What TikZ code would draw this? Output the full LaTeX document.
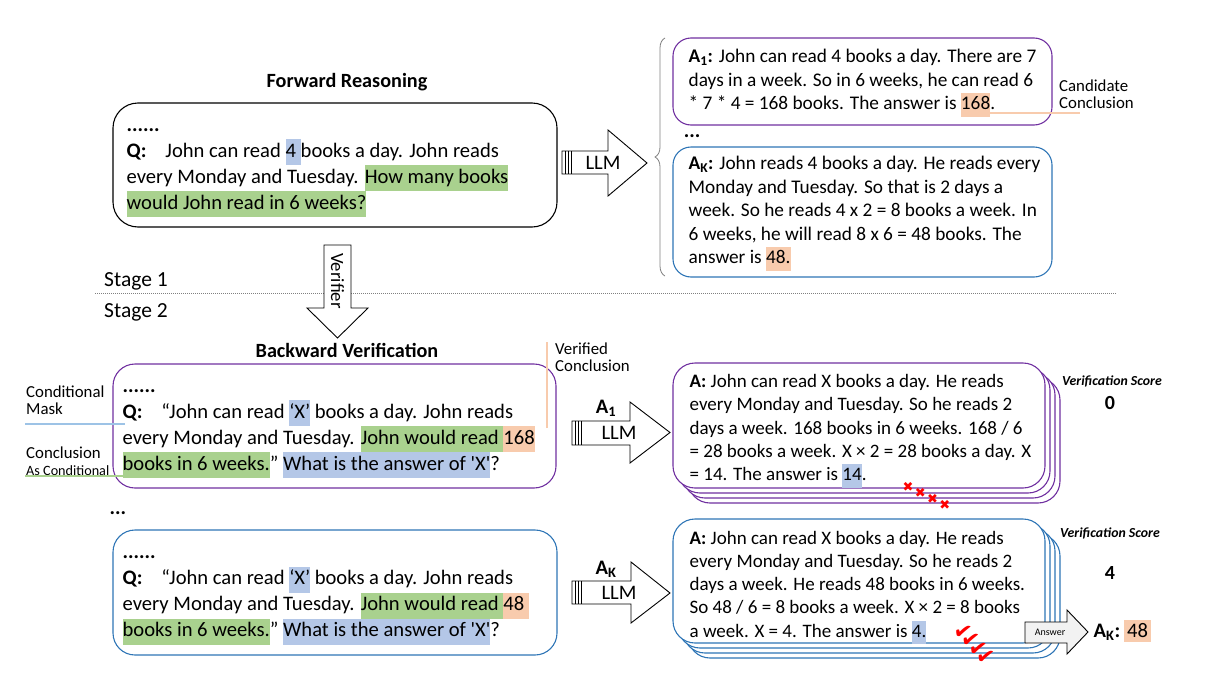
\documentclass[tikz,border=0pt]{standalone}
\usepackage{fontspec}
\setmainfont{Carlito}
\newfontfamily\symfont{DejaVu Sans}
\usetikzlibrary{positioning, decorations.pathreplacing}

\definecolor{vpurple}{HTML}{7030A0}
\definecolor{vblue}{HTML}{2E75B6}
\definecolor{hlblue}{HTML}{B4C7E7}
\definecolor{hlgreen}{HTML}{A9D18E}
\definecolor{hlorange}{HTML}{F8CBAD}
\definecolor{maskblue}{HTML}{9DC3E6}
\definecolor{bracegray}{HTML}{808080}

\setlength{\fboxsep}{0pt}
\newcommand{\hlb}[1]{\colorbox{hlblue}{\strut#1}}
\newcommand{\hlg}[1]{\colorbox{hlgreen}{\strut#1}}
\newcommand{\hlo}[1]{\colorbox{hlorange}{\strut#1}}
\newcommand{\sq}{\textquotesingle}
\newcommand{\qmark}{\textbf{Q:}\hspace{19pt}}

\begin{document}
\begin{tikzpicture}[x=1pt, y=-1pt,
    qbox/.style={draw=#1, line width=1.1pt, rounded corners=22pt, inner sep=0pt},
    stackbox/.style={draw=#1, line width=1.1pt, rounded corners=22pt, inner sep=0pt, fill=white, minimum width=372pt},
    qtext/.style={font=\fontsize{20.6}{26}\selectfont, align=left, inner sep=0pt, anchor=west},
    atext/.style={font=\fontsize{19.3}{23.5}\selectfont, align=left, inner sep=0pt, anchor=west},
    vtext/.style={font=\fontsize{19}{23.2}\selectfont, align=left, inner sep=0pt, anchor=west},
    lbl/.style={font=\fontsize{16.8}{17.5}\selectfont, align=left, inner sep=0pt, anchor=west},
    heading/.style={font=\bfseries\fontsize{20.2}{22}\selectfont},
    stagelbl/.style={font=\fontsize{21.5}{23}\selectfont, inner sep=0pt, anchor=west},
    fatarrow/.style={draw, line width=0.9pt, fill=white, line join=miter},
    scoretitle/.style={font=\bfseries\itshape\fontsize{13.8}{15}\selectfont},
    scorenum/.style={font=\bfseries\fontsize{20}{22}\selectfont},
    bigtxt/.style={font=\fontsize{20.6}{24}\selectfont},
    chk/.style={text=red, font=\symfont\fontsize{22}{22}\selectfont, inner sep=0pt, rotate=-10},
    crs/.style={text=red, font=\symfont\fontsize{13}{13}\selectfont, inner sep=0pt}
  ]
\useasboundingbox (0,0) rectangle (1230,688);

% ---- Stage 1: forward reasoning
\node[heading] (fwdtitle) at (347,82) {Forward Reasoning};
\node[qbox=black, minimum width=444pt, minimum height=124pt, rounded corners=25pt] (fwd) at (335,165) {};
\node[qtext] (fwdtext) at ([xshift=14pt]fwd.west) {\strut\textbf{......}\\
\qmark John can read \hlb{4 }books a day. John reads\\
every Monday and Tuesday. \hlg{How many books}\\
\hlg{would John read in 6 weeks?}};

% LLM arrow
\draw[fatarrow] (562,151) -- (608,151) -- (608,130) -- (647,163) -- (608,196) -- (608,174) -- (562,174) -- cycle;
\foreach \sx in {3,6,9}
  \draw[line width=0.6pt] ({562+\sx},151) -- ({562+\sx},174);
\node[bigtxt] (llm0) at (603,163) {LLM};

% brace
\draw[bracegray, line width=0.8pt, decorate, decoration={brace, amplitude=10pt}] (665,276) -- (665,38);

% candidate answers
\node[qbox=vpurple, minimum width=379pt, minimum height=87pt, rounded corners=18pt] (a1) at (862.5,81.5) {};
\node[atext] (a1text) at ([xshift=16pt]a1.west) {\strut\textbf{A\textsubscript{1}:} John can read 4 books a day. There are 7\\
days in a week. So in 6 weeks, he can read 6\\{}* 7 * 4 = 168 books. The answer is \hlo{168}.};
\node[bigtxt] (dotsA) at (692,136) {\textbf{...}};
\node[qbox=vblue, minimum width=379pt, minimum height=130pt, rounded corners=18pt] (ak) at (862.5,212) {};
\node[atext] (aktext) at ([xshift=16pt]ak.west) {\strut\textbf{A\textsubscript{K}:} John reads 4 books a day. He reads every\\
Monday and Tuesday. So that is 2 days a\\
week. So he reads 4 x 2 = 8 books a week. In\\
6 weeks, he will read 8 x 6 = 48 books. The\\
answer is \hlo{48.}};

\node[lbl] (candlbl) at (1059,94) {Candidate\\Conclusion};
\coordinate (candfrom) at (987,113);
\coordinate (candto) at (1080,113);
\draw[hlorange, line width=2.5pt] (candfrom) -- (candto);

% ---- stage divider
\draw[gray, line width=0.8pt, dash pattern=on 1pt off 1pt] (95,293) -- (1117,293);
\node[stagelbl] (st1) at (104,281) {Stage 1};
\node[stagelbl] (st2) at (104,312) {Stage 2};

% verifier arrow
\draw[fatarrow] (324,245) -- (351,245) -- (351,308) -- (368,308) -- (337.5,338) -- (307,308) -- (324,308) -- cycle;
\node[rotate=-90, font=\fontsize{18.7}{20}\selectfont] (verif) at (337.5,281) {Verifier};

% ---- Stage 2: backward verification
\node[heading] (bwdtitle) at (347,350) {Backward Verification};
\node[qbox=vpurple, minimum width=443pt, minimum height=124pt] (bq1) at (334.5,426) {};
\node[qtext] (bq1text) at ([xshift=10pt]bq1.west) {\strut\textbf{......}\\
\qmark“John can read \hlb{‘X’} books a day. John reads\\
every Monday and Tuesday. \hlg{John would read }\hlo{168}\\
\hlg{books in 6 weeks.}” \hlb{What is the answer of \sq X\sq}?};

\node[bigtxt] (dotsQ) at (118,513) {\textbf{...}};
\node[qbox=vblue, minimum width=444pt, minimum height=125pt] (bq2) at (335,592.5) {};
\node[qtext] (bq2text) at ([xshift=10pt]bq2.west) {\strut\textbf{......}\\
\qmark“John can read \hlb{‘X’} books a day. John reads\\
every Monday and Tuesday. \hlg{John would read }\hlo{48 }\\
\hlg{books in 6 weeks.}” \hlb{What is the answer of \sq X\sq}?};

% side labels
\node[lbl] (verlbl) at (555,357) {Verified\\Conclusion};
\coordinate (verfrom) at (547,428);
\coordinate (verto) at (547,342);
\draw[hlorange, line width=2.5pt] (verfrom) -- (verto);

\node[lbl] (masklbl) at (26,400) {Conditional\\Mask};
\coordinate (maskfrom) at (25,424);
\coordinate (maskto) at (125,424);
\draw[maskblue, line width=2pt] (maskfrom) -- (maskto);

\node[lbl] (condlbl) at (26,461) {Conclusion\\{\fontsize{14.2}{14}\selectfont As Conditional}};
\coordinate (condfrom) at (25,476);
\coordinate (condto) at (125,476);
\draw[hlgreen, line width=2pt] (condfrom) -- (condto);

% A1 / AK arrows
\draw[fatarrow] (572,421) -- (630,421) -- (630,402) -- (670,432.5) -- (630,463) -- (630,445) -- (572,445) -- cycle;
\foreach \sx in {3,6,9}
  \draw[line width=0.6pt] ({572+\sx},421) -- ({572+\sx},445);
\node[bigtxt] (llm1) at (619,433) {LLM};
\node[bigtxt] (lblA1) at (606,408) {\textbf{A\textsubscript{1}}};

\draw[fatarrow] (572,581) -- (631,581) -- (631,562) -- (670,593) -- (631,623) -- (631,604) -- (572,604) -- cycle;
\foreach \sx in {3,6,9}
  \draw[line width=0.6pt] ({572+\sx},581) -- ({572+\sx},604);
\node[bigtxt] (llm2) at (619,593) {LLM};
\node[bigtxt] (lblAK) at (606,569) {\textbf{A\textsubscript{K}}};

% verification stacks
\coordinate (v1c) at (859,425.5);
\foreach \d in {15,10,5}
  \node[stackbox=vpurple, minimum height=125pt] (v1back\d) at ([shift={(\d,\d)}]v1c) {};
\node[stackbox=vpurple, minimum height=125pt] (v1) at (v1c) {};
\node[vtext] (v1text) at ([xshift=17pt, yshift=-4pt]v1.west) {\strut\textbf{A:} John can read X books a day. He reads\\
every Monday and Tuesday. So he reads 2\\
days a week. 168 books in 6 weeks. 168 / 6\\
= 28 books a week. X × 2 = 28 books a day. X\\
= 14. The answer is \hlb{14}.};
\foreach \i in {0,...,3}
  \node[crs] (crs\i) at ({908+12.3*\i},{487+6*\i}) {✖};

\coordinate (v2c) at (859,581);
\foreach \d in {15,10,5}
  \node[stackbox=vblue, minimum height=124pt] (v2back\d) at ([shift={(\d,\d)}]v2c) {};
\node[stackbox=vblue, minimum height=124pt] (v2) at (v2c) {};
\node[vtext] (v2text) at ([xshift=17pt, yshift=-5pt]v2.west) {\strut\textbf{A:} John can read X books a day. He reads\\
every Monday and Tuesday. So he reads 2\\
days a week. He reads 48 books in 6 weeks.\\
So 48 / 6 = 8 books a week. X × 2 = 8 books\\
a week. X = 4. The answer is \hlb{4.}};
\foreach \i in {0,...,3}
  \node[chk] (chk\i) at ({963+7.5*\i},{632+8.5*\i}) {✔};

% scores
\node[scoretitle] (vs1) at (1112,381) {Verification Score};
\node[scorenum] (sc1) at (1110,403) {0};
\node[scoretitle] (vs2) at (1110,533) {Verification Score};
\node[scorenum] (sc2) at (1110,573) {4};

% answer arrow
\draw[fatarrow, fill=gray!10] (1025,622) -- (1067,622) -- (1067,610) -- (1088,632) -- (1067,654) -- (1067,643) -- (1025,643) -- cycle;
\node[font=\fontsize{10}{11}\selectfont] (anstxt) at (1050,632.5) {Answer};
\node[bigtxt] (akans) at (1107,632) {\textbf{A\textsubscript{K}:}};
\node[bigtxt, fill=hlorange, minimum height=22pt, inner xsep=3pt, inner ysep=0pt] (akval) at (1137.5,631) {48};
\end{tikzpicture}
\end{document}
